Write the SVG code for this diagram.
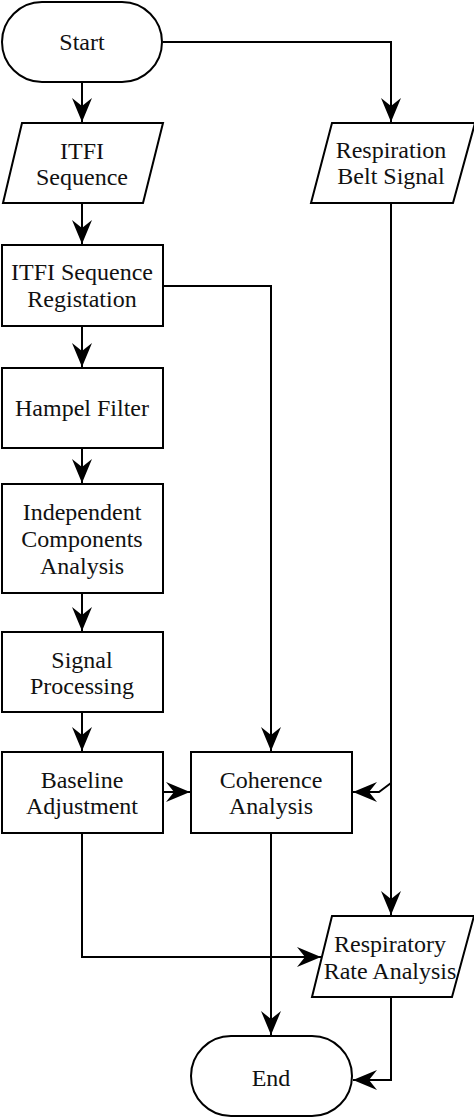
<svg xmlns="http://www.w3.org/2000/svg" width="474" height="1117" viewBox="0 0 474 1117">
<style>
.shape{fill:#fff;stroke:#000;stroke-width:2}
.lbl{font-family:"Liberation Serif","Times New Roman",serif;font-size:24px;fill:#111;text-anchor:middle}
.conn{fill:none;stroke:#000;stroke-width:2}
</style>
<defs>
<marker id="arr" viewBox="-26 -12 28 24" refX="0" refY="0" markerWidth="28" markerHeight="24" markerUnits="userSpaceOnUse" orient="auto">
<path d="M0,0 L-24,-10 L-16,0 L-24,10 Z" fill="#000"/>
</marker>
</defs>
<rect width="474" height="1117" fill="#fff"/>
<g id="connectors">
<path class="conn" d="M82,82 L82,122" marker-end="url(#arr)"/>
<path class="conn" d="M163,42 L391,42 L391,122" marker-end="url(#arr)"/>
<path class="conn" d="M82,203 L82,244" marker-end="url(#arr)"/>
<path class="conn" d="M82,326 L82,367" marker-end="url(#arr)"/>
<path class="conn" d="M82,448 L82,483" marker-end="url(#arr)"/>
<path class="conn" d="M82,593 L82,631" marker-end="url(#arr)"/>
<path class="conn" d="M82,712 L82,751" marker-end="url(#arr)"/>
<path class="conn" d="M163,286 L271,286 L271,751" marker-end="url(#arr)"/>
<path class="conn" d="M163,792 L190,792" marker-end="url(#arr)"/>
<path class="conn" d="M391,203 L391,915" marker-end="url(#arr)"/>
<path class="conn" d="M391,783 L379,792 L353,792" marker-end="url(#arr)"/>
<path class="conn" d="M271,833 L271,1035" marker-end="url(#arr)"/>
<path class="conn" d="M82,833 L82,957 L321,957" marker-end="url(#arr)"/>
<path class="conn" d="M391,997 L391,1080 L353,1080" marker-end="url(#arr)"/>
</g>
<g id="start">
<rect class="shape" x="2" y="2" width="160" height="80" rx="40" ry="40"/>
<text class="lbl" x="82" y="50">Start</text>
</g>
<g id="itfi-sequence">
<polygon class="shape" points="22,123 163,123 143,203 3,203"/>
<text class="lbl" x="82" y="159">ITFI</text>
<text class="lbl" x="82" y="185">Sequence</text>
</g>
<g id="respiration-belt">
<polygon class="shape" points="332,123 475,123 453,203 311,203"/>
<text class="lbl" x="391" y="158">Respiration</text>
<text class="lbl" x="391" y="184">Belt Signal</text>
</g>
<g id="registration">
<rect class="shape" x="2" y="245" width="161" height="81"/>
<text class="lbl" x="82" y="280">ITFI Sequence</text>
<text class="lbl" x="82" y="307">Registation</text>
</g>
<g id="hampel">
<rect class="shape" x="2" y="368" width="161" height="80"/>
<text class="lbl" x="82" y="416">Hampel Filter</text>
</g>
<g id="ica">
<rect class="shape" x="2" y="484" width="161" height="109"/>
<text class="lbl" x="82" y="520">Independent</text>
<text class="lbl" x="82" y="547">Components</text>
<text class="lbl" x="82" y="574">Analysis</text>
</g>
<g id="signal-processing">
<rect class="shape" x="2" y="632" width="161" height="80"/>
<text class="lbl" x="82" y="668">Signal</text>
<text class="lbl" x="82" y="694">Processing</text>
</g>
<g id="baseline">
<rect class="shape" x="2" y="752" width="161" height="81"/>
<text class="lbl" x="82" y="788">Baseline</text>
<text class="lbl" x="82" y="814">Adjustment</text>
</g>
<g id="coherence">
<rect class="shape" x="191" y="752" width="161" height="81"/>
<text class="lbl" x="271" y="788">Coherence</text>
<text class="lbl" x="271" y="814">Analysis</text>
</g>
<g id="respiratory-rate">
<polygon class="shape" points="332,916 474,916 452,997 312,997"/>
<text class="lbl" x="390" y="952">Respiratory</text>
<text class="lbl" x="390" y="979">Rate Analysis</text>
</g>
<g id="end">
<rect class="shape" x="191" y="1036" width="161" height="80" rx="40" ry="40"/>
<text class="lbl" x="271" y="1086">End</text>
</g>
</svg>
